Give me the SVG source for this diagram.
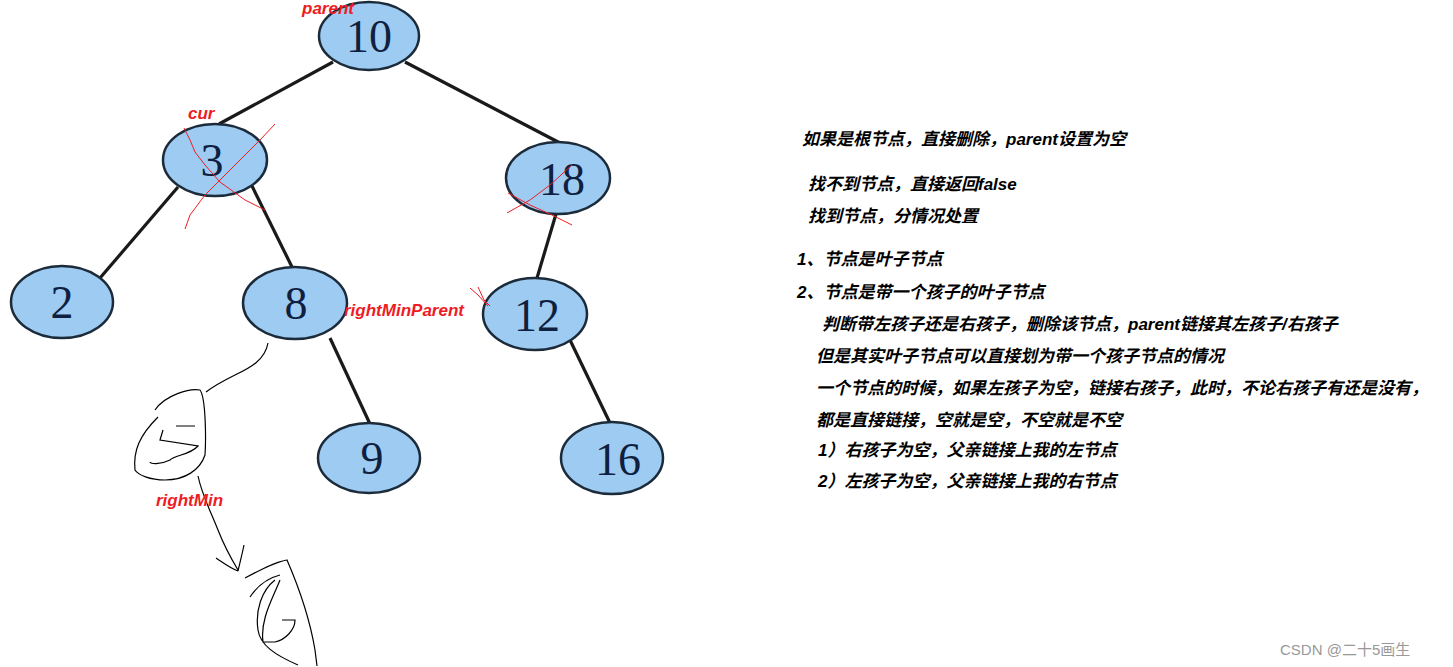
<svg xmlns="http://www.w3.org/2000/svg" width="1453" height="667" viewBox="0 0 1453 667">
<style>
.n{fill:#9ecbf2;stroke:#1c2b3a;stroke-width:2.5}
.nt{font-family:"Liberation Serif",serif;font-size:46px;fill:#0f1f3f;text-anchor:middle}
.e{stroke:#1a1a1a;stroke-width:3.2;fill:none}
.r{font-family:"Liberation Sans","Noto Sans CJK SC",sans-serif;font-size:17px;font-weight:bold;font-style:italic;fill:#ee1c24}
.t{font-family:"Liberation Sans","Noto Sans CJK SC",sans-serif;font-size:17px;font-weight:bold;font-style:italic;fill:#000}
.s{stroke:#000;stroke-width:1.2;fill:none}
.x{stroke:#ee1c24;stroke-width:1;fill:none}
</style>
<rect width="1453" height="667" fill="#fff"/>
<g id="connectors">
<line class="e" x1="333" y1="62" x2="219" y2="124"/>
<line class="e" x1="405" y1="62" x2="560" y2="143"/>
<line class="e" x1="178" y1="187" x2="100" y2="278"/>
<line class="e" x1="252" y1="186" x2="292" y2="267"/>
<line class="e" x1="556" y1="214" x2="537" y2="278"/>
<line class="e" x1="330" y1="338" x2="370" y2="424"/>
<line class="e" x1="570" y1="340" x2="610" y2="423"/>
</g>
<g id="n10"><ellipse class="n" cx="369" cy="36" rx="50" ry="34"/><text class="nt" x="369" y="52">10</text></g>
<g id="n3"><ellipse class="n" cx="215" cy="160" rx="52" ry="36"/><text class="nt" x="212" y="176">3</text></g>
<g id="n18"><ellipse class="n" cx="558" cy="178" rx="52" ry="36"/><text class="nt" x="562" y="195">18</text></g>
<g id="n2"><ellipse class="n" cx="62" cy="302" rx="51" ry="36"/><text class="nt" x="62" y="318">2</text></g>
<g id="n8"><ellipse class="n" cx="295" cy="303" rx="52" ry="36"/><text class="nt" x="296" y="319">8</text></g>
<g id="n12"><ellipse class="n" cx="535" cy="314" rx="52" ry="36"/><text class="nt" x="537" y="331">12</text></g>
<g id="n9"><ellipse class="n" cx="369" cy="458" rx="51" ry="35"/><text class="nt" x="372" y="474">9</text></g>
<g id="n16"><ellipse class="n" cx="612" cy="458" rx="51" ry="36"/><text class="nt" x="618" y="475">16</text></g>
<g id="marks">
<path class="x" d="M184,128 L190,140 L195,152 L205,165 L220,182 L245,200 L265,210"/>
<path class="x" d="M275,124 L260,140 L245,155 L225,175 L205,195 L190,215 L185,229"/>
<path class="x" d="M507,213 L530,200 L550,185 L572,165"/>
<path class="x" d="M508,193 L530,205 L552,215 L572,225"/>
<path class="x" d="M470,288 L478,295 L488,306 M478,287 L484,300 L490,306"/>
</g>
<g id="sketch">
<path class="s" d="M268,343 C265,360 250,368 235,375 C225,380 215,385 206,392"/>
<path class="s" d="M155,410 C165,395 190,388 200,390 C206,398 206,440 205,455 C200,470 185,480 165,480 C150,480 138,475 135,470 C133,450 140,435 158,417"/>
<path class="s" d="M176,426 L195,426 M163,430 L160,440 L198,446 C190,455 175,455 170,460 C160,465 150,464 150,462"/>
<path class="s" d="M198,476 C202,495 210,510 218,530 C225,548 232,560 238,570 M216,558 C225,564 230,568 238,571 M244,545 C242,555 240,562 238,571"/>
<path class="s" d="M245,578 C260,570 275,562 287,560 C300,590 310,620 315,650 L317,666 M250,597 C258,585 268,578 280,575 M275,580 C262,590 255,610 258,630 C260,645 275,655 298,665 M280,580 C272,600 260,620 263,642 L275,642 C285,640 295,630 295,620 L282,620"/>
</g>
<g id="labels">
<text class="r" x="302" y="14">parent</text>
<text class="r" x="188" y="119">cur</text>
<text class="r" x="344" y="316">rightMinParent</text>
<text class="r" x="156" y="506">rightMin</text>
</g>
<g id="notes">
<text class="t" x="802" y="145">如果是根节点，直接删除，parent设置为空</text>
<text class="t" x="808" y="190">找不到节点，直接返回false</text>
<text class="t" x="808" y="222">找到节点，分情况处置</text>
<text class="t" x="797" y="265">1、节点是叶子节点</text>
<text class="t" x="797" y="298">2、节点是带一个孩子的叶子节点</text>
<text class="t" x="822" y="330">判断带左孩子还是右孩子，删除该节点，parent链接其左孩子/右孩子</text>
<text class="t" x="816" y="362">但是其实叶子节点可以直接划为带一个孩子节点的情况</text>
<text class="t" x="816" y="394">一个节点的时候，如果左孩子为空，链接右孩子，此时，不论右孩子有还是没有，</text>
<text class="t" x="816" y="426">都是直接链接，空就是空，不空就是不空</text>
<text class="t" x="818" y="456">1）右孩子为空，父亲链接上我的左节点</text>
<text class="t" x="818" y="487">2）左孩子为空，父亲链接上我的右节点</text>
<text x="1280" y="655" style="font-family:'Liberation Sans','Noto Sans CJK SC',sans-serif;font-size:15px;fill:#999">CSDN @二十5画生</text>
</g>
</svg>
